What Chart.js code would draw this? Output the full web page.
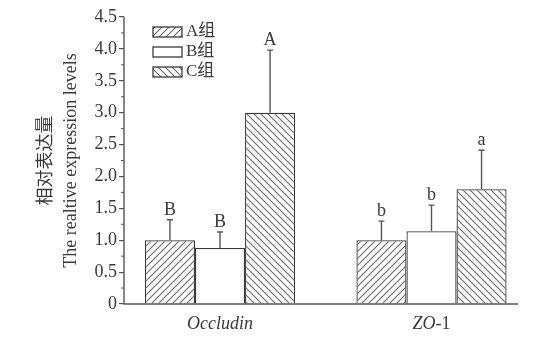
<!DOCTYPE html>
<html>
<head>
<meta charset="utf-8">
<script src="https://cdn.jsdelivr.net/npm/chart.js@4/dist/chart.umd.min.js"></script>
<style>
  html, body { margin: 0; padding: 0; background: #fff; }
  #wrap { width: 546px; height: 352px; }
</style>
</head>
<body>
<div id="wrap"><canvas id="chart"></canvas></div>
<script>
// --- Data
const categories = ['Occludin', 'ZO-1'];
const groupNames = ['A组', 'B组', 'C组'];
const groupA = [1.00, 1.00];
const groupB = [0.88, 1.14];
const groupC = [3.00, 1.80];
const errA = [0.32, 0.30];
const errB = [0.25, 0.41];
const errC = [0.98, 0.61];
const lettersA = ['B', 'b'];
const lettersB = ['B', 'b'];
const lettersC = ['A', 'a'];
const yTicks = [0, 0.5, 1.0, 1.5, 2.0, 2.5, 3.0, 3.5, 4.0, 4.5];

const serif = "'Liberation Serif', 'Noto Sans CJK SC', serif";
const ink = '#3a3a3a';

// --- hatch patterns
function hatch(dir) {
  const s = 7;
  const c = document.createElement('canvas');
  c.width = s; c.height = s;
  const g = c.getContext('2d');
  g.fillStyle = '#fff';
  g.fillRect(0, 0, s, s);
  g.strokeStyle = '#6a6a6a';
  g.lineWidth = 1.1;
  g.beginPath();
  if (dir > 0) {
    g.moveTo(-1, s + 1); g.lineTo(s + 1, -1);
    g.moveTo(-1, 1); g.lineTo(1, -1);
    g.moveTo(s - 1, s + 1); g.lineTo(s + 1, s - 1);
  } else {
    g.moveTo(-1, -1); g.lineTo(s + 1, s + 1);
    g.moveTo(s - 1, -1); g.lineTo(s + 1, 1);
    g.moveTo(-1, s - 1); g.lineTo(1, s + 1);
  }
  g.stroke();
  return g.createPattern(c, 'repeat');
}
const fills = [hatch(1), '#ffffff', hatch(-1)];

const values = [groupA, groupB, groupC];
const errs = [errA, errB, errC];
const letters = [lettersA, lettersB, lettersC];

const datasets = values.map((vals, k) => ({
  label: groupNames[k],
  data: vals.map((v, i) => ({ x: i + 1, y: v })),
  backgroundColor: fills[k],
  borderColor: ink,
  borderWidth: 1.3,
  borderSkipped: 'bottom',
  categoryPercentage: 0.71,
  barPercentage: 1.0,
  errs: errs[k],
  letters: letters[k]
}));

// error bars, letters, legend, minor ticks, x labels
const extras = {
  id: 'extras',
  afterDatasetsDraw(chart) {
    const ctx = chart.ctx;
    const ys = chart.scales.y;
    const xs = chart.scales.x;
    ctx.save();
    // error bars + significance letters
    chart.data.datasets.forEach((ds, k) => {
      const meta = chart.getDatasetMeta(k);
      meta.data.forEach((bar, i) => {
        const top = ys.getPixelForValue(ds.data[i].y + ds.errs[i]);
        ctx.strokeStyle = '#555';
        ctx.lineWidth = 1.4;
        ctx.beginPath();
        ctx.moveTo(bar.x, bar.y);
        ctx.lineTo(bar.x, top);
        ctx.moveTo(bar.x - 3, top);
        ctx.lineTo(bar.x + 3, top);
        ctx.stroke();
        ctx.fillStyle = ink;
        ctx.font = '18px ' + serif;
        ctx.textAlign = 'center';
        ctx.textBaseline = 'alphabetic';
        ctx.fillText(ds.letters[i], bar.x, top - 5);
      });
    });
    // axes lines
    const a = chart.chartArea;
    ctx.strokeStyle = '#555';
    ctx.lineWidth = 1.4;
    ctx.beginPath();
    ctx.moveTo(a.left, a.top);
    ctx.lineTo(a.left, a.bottom);
    ctx.lineTo(a.right, a.bottom);
    ctx.stroke();
    // minor ticks at the middle of major ticks
    ctx.lineWidth = 1;
    ctx.beginPath();
    for (let i = 0; i < ys.ticks.length - 1; i++) {
      const m = (ys.ticks[i].value + ys.ticks[i + 1].value) / 2;
      const py = ys.getPixelForValue(m);
      ctx.moveTo(a.left - 3, py);
      ctx.lineTo(a.left, py);
    }
    ctx.stroke();
    // x category labels (gene names italic, "-1" upright)
    ctx.fillStyle = ink;
    ctx.textBaseline = 'middle';
    categories.forEach((name, i) => {
      const px = xs.getPixelForValue(i + 1);
      const py = a.bottom + 20;
      const dash = name.indexOf('-');
      const it = dash < 0 ? name : name.slice(0, dash);
      const rest = dash < 0 ? '' : name.slice(dash);
      ctx.font = 'italic 18px ' + serif;
      const w1 = ctx.measureText(it).width;
      ctx.font = '18px ' + serif;
      const w2 = ctx.measureText(rest).width;
      let x0 = px - (w1 + w2) / 2;
      ctx.textAlign = 'left';
      ctx.font = 'italic 18px ' + serif;
      ctx.fillText(it, x0, py);
      ctx.font = '18px ' + serif;
      ctx.fillText(rest, x0 + w1, py);
    });
    // legend inside plot, top left
    chart.data.datasets.forEach((ds, k) => {
      const bx = a.left + 29;
      const by = a.top + 10 + k * 20;
      ctx.fillStyle = ds.backgroundColor;
      ctx.fillRect(bx, by, 29, 10);
      ctx.strokeStyle = ink;
      ctx.lineWidth = 1.3;
      ctx.strokeRect(bx, by, 29, 10);
      ctx.fillStyle = ink;
      ctx.font = '17px ' + serif;
      ctx.textAlign = 'left';
      ctx.textBaseline = 'middle';
      ctx.fillText(ds.label, bx + 33, by + 5);
    });
    ctx.restore();
  }
};

new Chart(document.getElementById('chart'), {
  type: 'bar',
  data: { datasets },
  options: {
    responsive: true,
    maintainAspectRatio: false,
    animation: false,
    devicePixelRatio: 1,
    layout: { padding: { left: 0, right: 28, top: 17, bottom: 0 } },
    plugins: { legend: { display: false }, tooltip: { enabled: false } },
    scales: {
      x: {
        type: 'linear',
        offset: false,
        min: 0.546,
        max: 2.409,
        afterBuildTicks: (s) => { s.ticks = categories.map((c, i) => ({ value: i + 1 })); },
        afterFit: (s) => { s.height = 48; },
        ticks: { display: false },
        grid: { display: false, drawTicks: false, offset: false },
        border: { display: false }
      },
      y: {
        min: 0,
        max: 4.5,
        afterBuildTicks: (s) => { s.ticks = yTicks.map(v => ({ value: v })); },
        afterFit: (s) => { s.width = 124; },
        ticks: {
          color: ink,
          padding: 2,
          font: { family: serif, size: 18 },
          callback: (v) => (v === 0 ? '0' : v.toFixed(1))
        },
        grid: { drawOnChartArea: false, drawTicks: true, tickLength: 5, color: '#555', lineWidth: 1.2 },
        border: { display: false },
        title: {
          display: true,
          text: ['相对表达量', 'The realtive expression levels'],
          color: ink,
          font: { family: serif, size: 18, lineHeight: 1.39 },
          padding: { top: 34, bottom: 0 }
        }
      }
    }
  },
  plugins: [extras]
});
</script>
</body>
</html>
